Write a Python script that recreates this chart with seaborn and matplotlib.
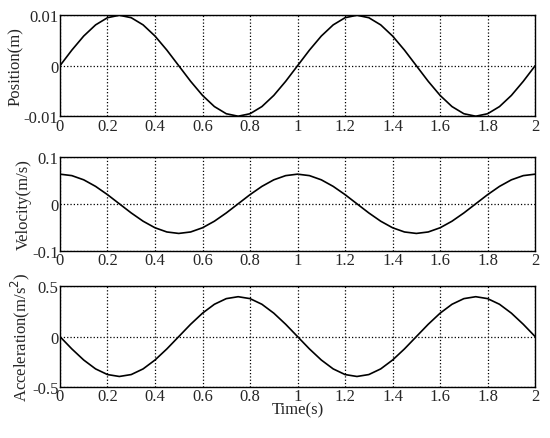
import matplotlib
matplotlib.use("Agg")
import matplotlib.pyplot as plt
import seaborn as sns
import pandas as pd

sns.set_style("white")
plt.rcParams['font.family'] = ['Liberation Serif', 'DejaVu Serif']

time_s = [i * 0.05 for i in range(41)]
half_pos = [0, .00309, .00588, .00809, .00951, .01, .00951, .00809, .00588, .00309]
position = half_pos + [-v for v in half_pos] + half_pos + [-v for v in half_pos] + [0]
half_vel = [.0628, .0597, .0508, .0369, .0194, 0, -.0194, -.0369, -.0508, -.0597]
velocity = half_vel + [-v for v in half_vel] + half_vel + [-v for v in half_vel] + [.0628]
half_acc = [0, -.122, -.232, -.320, -.376, -.395, -.376, -.320, -.232, -.122]
acceleration = half_acc + [-v for v in half_acc] + half_acc + [-v for v in half_acc] + [0]

df = pd.DataFrame({"t": time_s, "pos": position, "vel": velocity, "acc": acceleration})

fig = plt.figure(figsize=(5.5, 4.39), dpi=100)
specs = [
    ("pos", "Position(m)", (-0.01, 0.01), [-0.01, 0, 0.01], ["-0.01", "0", "0.01"], [0.109, 0.733, 0.864, 0.230]),
    ("vel", "Velocity(m/s)", (-0.1, 0.1), [-0.1, 0, 0.1], ["-0.1", "0", "0.1"], [0.109, 0.426, 0.864, 0.215]),
    ("acc", "Acceleration(m/s$^2$)", (-0.5, 0.5), [-0.5, 0, 0.5], ["-0.5", "0", "0.5"], [0.109, 0.116, 0.864, 0.230]),
]
for col, lab, yl, yt, ytl, rect in specs:
    ax = fig.add_axes(rect)
    sns.lineplot(data=df, x="t", y=col, ax=ax, color="black", linewidth=1.2)
    ax.set_xlim(0, 2)
    ax.set_ylim(*yl)
    ax.set_yticks(yt)
    ax.set_yticklabels(ytl)
    ax.set_xticks([0, 0.2, 0.4, 0.6, 0.8, 1, 1.2, 1.4, 1.6, 1.8, 2])
    ax.set_xticklabels(["0", "0.2", "0.4", "0.6", "0.8", "1", "1.2", "1.4", "1.6", "1.8", "2"])
    ax.grid(True, linestyle=":", color="black", linewidth=0.9)
    ax.set_ylabel(lab, fontsize=12, labelpad=0)
    ax.set_xlabel("")
    ax.tick_params(direction="in", labelsize=12, length=3, pad=1)
    for s in ax.spines.values():
        s.set_color("black")
        s.set_linewidth(1.0)
    if col == "acc":
        ax.set_xlabel("Time(s)", fontsize=12, labelpad=-2)

fig.savefig("out.png", dpi=100)
